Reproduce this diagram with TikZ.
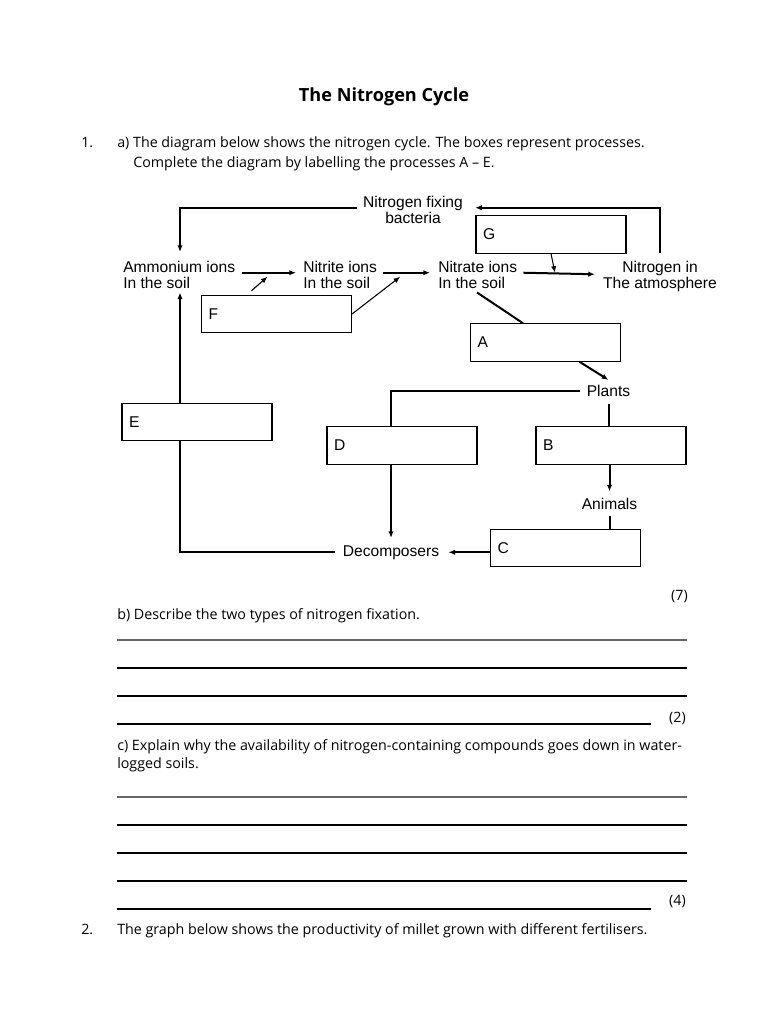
\documentclass[tikz,border=0pt]{standalone}
\usepackage{fontspec}
\setmainfont{Open Sans}
\newfontfamily\arialf{Liberation Sans}
\usetikzlibrary{arrows.meta,calc}
\begin{document}
\begin{tikzpicture}[x=0.75pt,y=-0.75pt,
  lbl/.style={font=\arialf\fontsize{11.7}{11.6}\selectfont, inner sep=0pt},
  box/.style={draw, line width=0.8pt, minimum width=112.5pt, minimum height=28.1pt,
     text width=102pt, inner xsep=5.25pt, inner ysep=0pt, align=left,
     font=\arialf\fontsize{11.7}{11.6}\selectfont},
  main/.style={line width=1.5pt},
  thin/.style={line width=0.8pt},
  tip/.style={-{Latex[length=5pt,width=4pt]}},
  q/.style={font=\fontsize{10.7}{15}\selectfont, inner sep=0pt},
  ans/.style={line width=1pt},
  ansg/.style={line width=1.4pt, black!60},
  ansb/.style={line width=1.7pt}]
\useasboundingbox (0,0) rectangle (768,1024);
\fill[white] (0,0) rectangle (768,1024);

% header
\node[q, anchor=base, font=\bfseries\fontsize{13.6}{15}\selectfont] (title) at (384,102) {The Nitrogen Cycle};
\node[q, anchor=base west] (n1) at (81,147) {1.};
\node[q, anchor=base west] (qa1) at (117,147) {a) The diagram below shows the nitrogen cycle. The boxes represent processes.};
\node[q, anchor=base west] (qa2) at (133,167) {Complete the diagram by labelling the processes A -- E.};

% diagram labels
\node[lbl, anchor=north west, align=left] (amm) at (123,261) {Ammonium ions\\In the soil};
\node[lbl, anchor=north west, align=left] (nii) at (303,261) {Nitrite ions\\In the soil};
\node[lbl, anchor=north west, align=left] (nai) at (438,261) {Nitrate ions\\In the soil};
\node[lbl, anchor=north, align=center] (atm) at (660,261) {Nitrogen in\\The atmosphere};
\node[lbl, anchor=north, align=center] (fix) at (413,196) {Nitrogen fixing\\bacteria};
\node[lbl, anchor=base] (plants) at (608.5,396.5) {Plants};
\node[lbl, anchor=base] (animals) at (609.5,509) {Animals};
\node[lbl, anchor=base] (decomp) at (391,556) {Decomposers};

% boxes
\node[box] (G) at (551,234.5) {G};
\node[box] (F) at (276.5,314) {F};
\node[box] (A) at (545.5,342.5) {A};
\node[box] (E) at (197,422) {E};
\node[box] (D) at (402,445.5) {D};
\node[box] (B) at (611,445.5) {B};
\node[box] (C) at (565.5,548) {C};

% connectors
\draw[main,tip] ($(fix.west)+(-6,-2)$) -| ($(amm.north west)+(57,-9)$);
\draw[main,tip] ($(amm.east)+(7,-2)$) -- ($(nii.west)+(-7,-2)$);
\draw[thin,tip] ($(F.north)+(-25,-4)$) -- ($(F.north)+(-9,-18)$);
\draw[thin,tip] (F.east) -- ($(nii.east)+(23,2)$);
\draw[main,tip] ($(nii.east)+(6,-2)$) -- ($(nai.west)+(-8,-2)$);
\draw[main,tip] ($(nai.east)+(6,-2)$) -- ($(atm.west)+(-8,-2)$);
\draw[thin,tip] (G.south) -- ($(G.south)+(4,19)$);
\draw[main,tip] ($(atm.north)+(0,-8)$) |- ($(fix.east)+(12,-2)$);
\draw[main] ($(nai.south west)+(39,4)$) -- ($(A.north)+(-22.5,0)$);
\draw[main,tip] ($(A.south)+(34,0)$) -- ($(plants.north)+(0,-5)$);
\draw[main] ($(plants.west)+(-7,0)$) -| ($(D.north)+(-11,0)$);
\draw[main] ($(plants.south)+(0,7.5)$) -- (plants.south |- B.north);
\draw[main,tip] (animals.north |- B.south) -- ($(animals.north)+(0,-6)$);
\draw[main] ($(animals.south)+(0,7)$) -- (animals.south |- C.north);
\draw[main,tip] (C.west |- decomp.east) -- ($(decomp.east)+(9,0)$);
\draw[main,tip] (decomp.north |- D.south) -- ($(decomp.north)+(0,-7)$);
\draw[main] ($(decomp.west)+(-8,0)$) -| ($(E.south)+(-17,0)$);
\draw[main,tip] ($(E.north)+(-17,0)$) -- ($(amm.south west)+(57,4)$);

% part b
\node[q, anchor=base east] (m7) at (688,600) {(7)};
\node[q, anchor=base west] (qb) at (117,619) {b) Describe the two types of nitrogen fixation.};
\draw[ansg] (117,640) -- (687,640);
\draw[ans] (117,668) -- (687,668);
\draw[ansb] (117,696) -- (687,696);
\draw[ans] (117,724) -- (651,724);
\node[q, anchor=base east] (m2) at (686,722) {(2)};

% part c
\node[q, anchor=base west, align=left, font=\fontsize{10.7}{12.8}\selectfont] (qc) at (117,768) {c) Explain why the availability of nitrogen-containing compounds goes down in water-\\logged soils.};
\draw[ansg] (117,797) -- (687,797);
\draw[ansb] (117,825) -- (687,825);
\draw[ans] (117,853) -- (687,853);
\draw[ans] (117,881) -- (687,881);
\draw[ansb] (117,909) -- (651,909);
\node[q, anchor=base east] (m4) at (686,905) {(4)};

% question 2
\node[q, anchor=base west] (n2) at (81,934) {2.};
\node[q, anchor=base west] (q2) at (117,934) {The graph below shows the productivity of millet grown with different fertilisers.};
\end{tikzpicture}
\end{document}
